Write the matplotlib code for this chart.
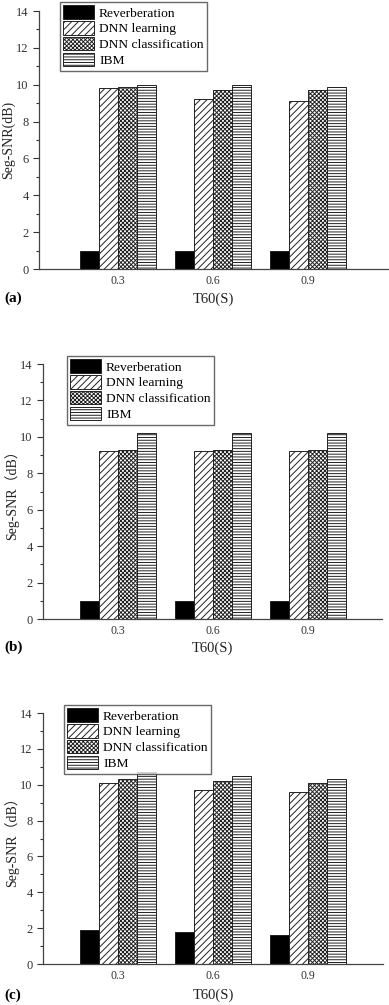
import matplotlib
matplotlib.use("Agg")
import matplotlib.pyplot as plt
import numpy as np

# data (Seg-SNR in dB)
T60 = ["0.3", "0.6", "0.9"]
SERIES = ["Reverberation", "DNN learning", "DNN classification", "IBM"]

a_reverb = [1.0, 1.0, 1.0]
a_learn = [9.8, 9.2, 9.1]
a_class = [9.9, 9.7, 9.7]
a_ibm = [10.0, 10.0, 9.9]

b_reverb = [1.0, 1.0, 1.0]
b_learn = [9.2, 9.2, 9.2]
b_class = [9.3, 9.3, 9.3]
b_ibm = [10.2, 10.2, 10.2]

c_reverb = [1.9, 1.8, 1.6]
c_learn = [10.1, 9.7, 9.6]
c_class = [10.3, 10.2, 10.1]
c_ibm = [10.7, 10.5, 10.3]

W, H = 389, 1005
SERIF = ["Liberation Serif", "Noto Sans CJK SC", "DejaVu Serif"]
plt.rcParams["font.family"] = SERIF
plt.rcParams["hatch.linewidth"] = 0.7

STYLES = [
    dict(facecolor="black", hatch=None),
    dict(facecolor="white", hatch="/////"),
    dict(facecolor="white", hatch="xxxxxxxx"),
    dict(facecolor="white", hatch="------"),
]


def px_box(left, right, top, bottom):
    return [left / W, 1 - bottom / H, (right - left) / W, (bottom - top) / H]


def panel(fig, box, values, ylabel, tag, xlim, leg_xy, xlab_y, tag_y, ylab_x):
    ax = fig.add_axes(px_box(*box))
    x = np.arange(1, len(T60) + 1)
    width = 0.2
    for i, (name, vals) in enumerate(zip(SERIES, values)):
        ax.bar(x + (i - 1.5) * width, vals, width, label=name,
               edgecolor="#222222", linewidth=0.7, **STYLES[i])
    ax.set_xlim(*xlim)
    ax.set_ylim(0, 14)
    ax.set_xticks(x)
    ax.set_xticklabels(T60)
    ax.set_yticks(range(0, 15, 2))
    ax.set_yticks(range(1, 14, 2), minor=True)
    ax.tick_params(axis="x", length=0, pad=4, labelsize=8.5, colors="#333333")
    ax.tick_params(axis="y", which="major", direction="out", length=4,
                   width=0.8, labelsize=9, colors="#333333")
    ax.tick_params(axis="y", which="minor", direction="out", length=2.5,
                   width=0.8, colors="#333333")
    for s in ("top", "right"):
        ax.spines[s].set_visible(False)
    for s in ("left", "bottom"):
        ax.spines[s].set_color("#444444")
        ax.spines[s].set_linewidth(0.9)

    fig.text(ylab_x / W, 1 - (box[2] + box[3]) / 2 / H, ylabel, rotation=90,
             ha="center", va="center", fontsize=10, color="#222222")
    fig.text((box[0] + box[1]) / 2 / W, 1 - xlab_y / H, "T60(S)",
             ha="center", va="center", fontsize=10.5, color="#222222")
    fig.text(4 / W, 1 - tag_y / H, tag, ha="left", va="center",
             fontsize=11, fontweight="bold")

    leg = ax.legend(loc="upper left", bbox_to_anchor=(leg_xy[0] / W, 1 - leg_xy[1] / H),
                    bbox_transform=fig.transFigure, borderaxespad=0,
                    fontsize=9.7, frameon=True, fancybox=False,
                    handlelength=2.25, handleheight=1.15, labelspacing=0.12,
                    handletextpad=0.4, borderpad=0.25, edgecolor="#444444")
    leg.get_frame().set_linewidth(1.0)
    leg.set_zorder(10)
    return ax


fig = plt.figure(figsize=(W / 100, H / 100), dpi=100)

panel(fig, (39, 388, 11, 269), [a_reverb, a_learn, a_class, a_ibm],
      "Seg-SNR(dB)", "(a)", (0.17, 3.84), (60, 2), 299, 298, 8)
panel(fig, (43, 382, 364, 619), [b_reverb, b_learn, b_class, b_ibm],
      "Seg-SNR（dB）", "(b)", (0.21, 3.78), (67, 356), 648, 647, 12)
panel(fig, (43, 383, 713, 964), [c_reverb, c_learn, c_class, c_ibm],
      "Seg-SNR（dB）", "(c)", (0.21, 3.79), (64, 705), 995, 995, 12)

fig.savefig("out.png", dpi=100)
